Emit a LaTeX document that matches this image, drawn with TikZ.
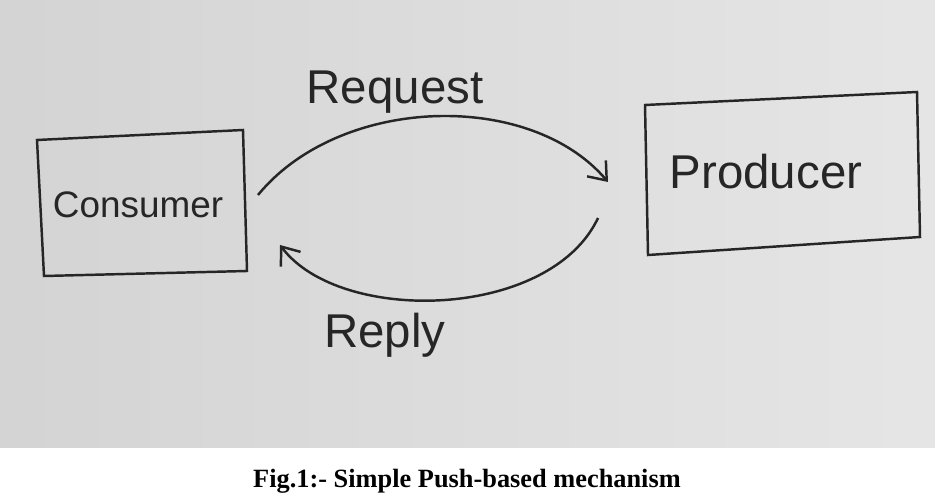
\documentclass[tikz,border=0pt]{standalone}
\usepackage{fontspec}
\setmainfont{Liberation Serif}
\newfontfamily\hand{Liberation Sans}
\usetikzlibrary{arrows.meta}
\begin{document}
\begin{tikzpicture}[x=0.02cm,y=-0.02cm,
  box/.style={draw=black!85,line width=1.4pt},
  hw/.style={font=\hand\fontsize{21}{24}\selectfont,text=black!85},
  hwbig/.style={font=\hand\fontsize{27}{30}\selectfont,text=black!85},
  arr/.style={draw=black!85,line width=1.4pt,-{Straight Barb[length=9pt,width=14pt]}}]
\useasboundingbox (0,0) rectangle (935,499);
\fill[white] (0,0) rectangle (935,499);
\fill[left color=black!17,right color=black!10] (0,0) rectangle (935,447);
\draw[box] (37,140) -- (243,130) -- (247,271) -- (44,276) -- cycle;
\node[hw] (c) at (138,205) {Consumer};
\draw[box] (645,105) -- (917,92) -- (920,237) -- (648,255) -- cycle;
\node[hwbig] (p) at (766,172) {Producer};
\coordinate (r1) at (258,195);
\coordinate (r2) at (608,182);
\coordinate (q1) at (598,218);
\coordinate (q2) at (280,245);
\draw[arr] (r1) .. controls (340,95) and (530,90) .. (r2);
\draw[arr] (q1) .. controls (550,320) and (340,325) .. (q2);
\node[hwbig] (req) at (395,92) {Request};
\node[hwbig] (rep) at (385,335) {Reply};
\node[font=\bfseries\fontsize{15}{17}\selectfont] (cap) at (467,481) {Fig.1:- Simple Push-based mechanism};
\end{tikzpicture}
\end{document}
